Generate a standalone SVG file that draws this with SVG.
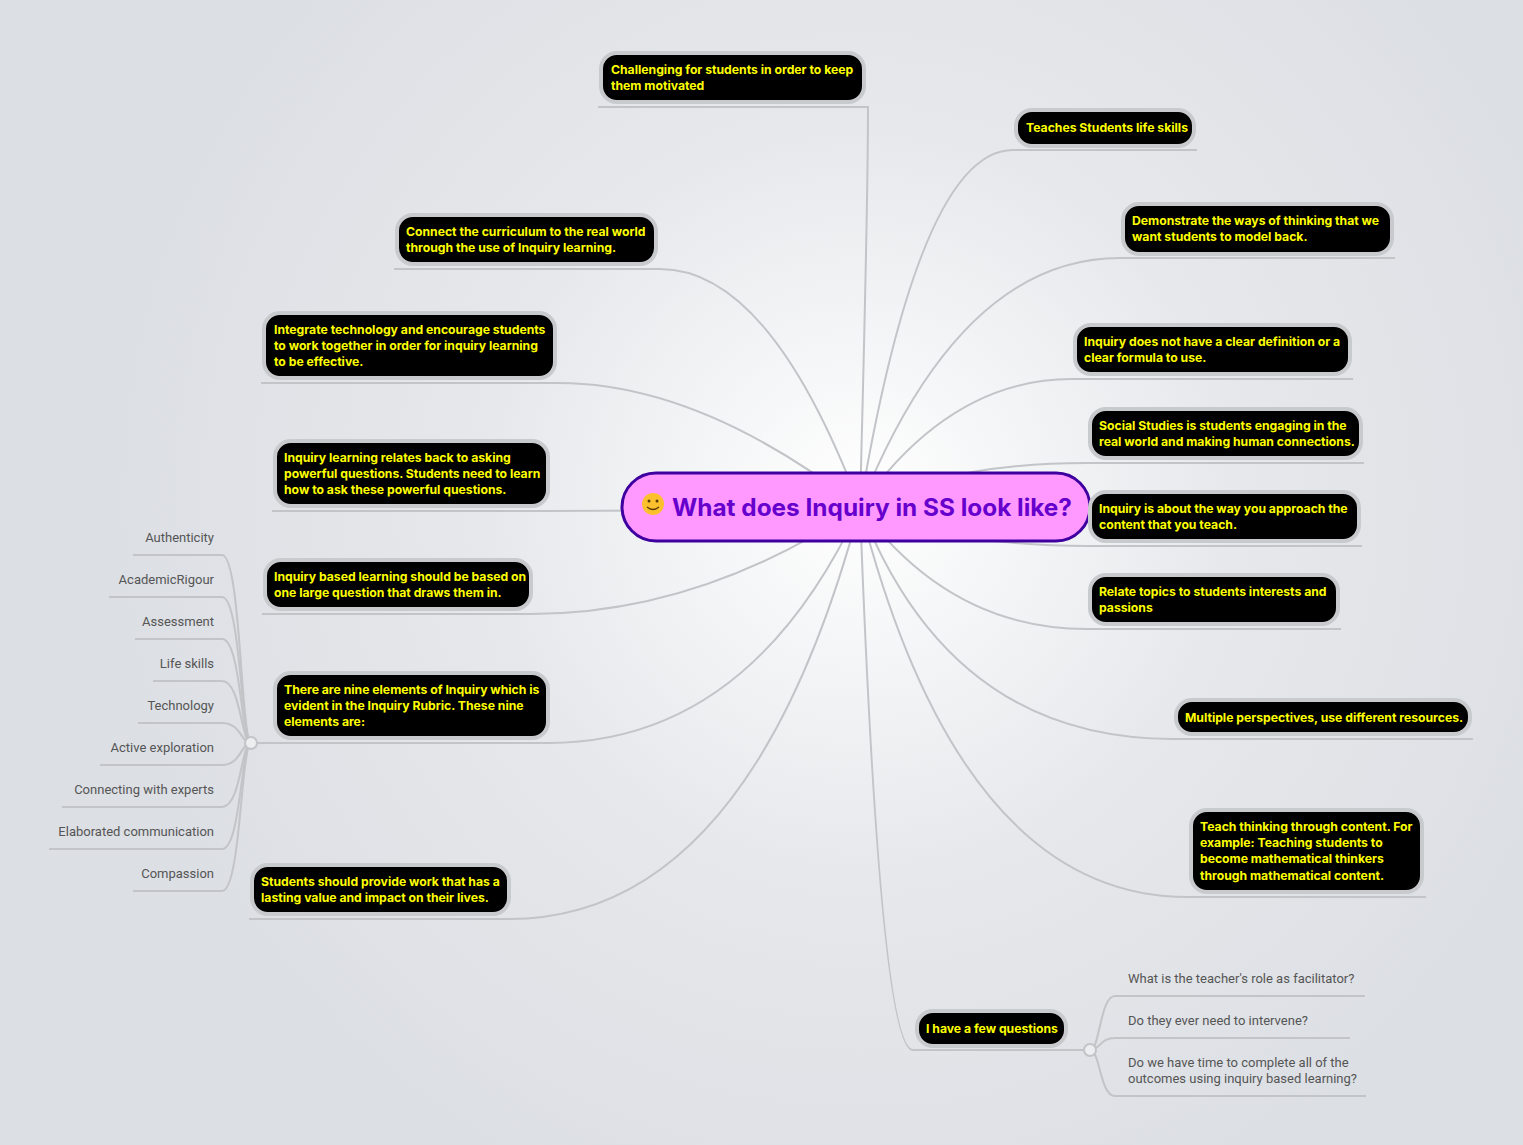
<svg xmlns="http://www.w3.org/2000/svg" width="1523" height="1145" viewBox="0 0 1523 1145">
<defs>
<radialGradient id="bg" cx="860" cy="500" r="750" gradientUnits="userSpaceOnUse">
<stop offset="0" stop-color="#ffffff"/><stop offset="0.5" stop-color="#e6e8eb"/><stop offset="1" stop-color="#dcdfe4"/>
</radialGradient>
<style>
.c{fill:none;stroke:#c2c4c8;stroke-width:2}
.n rect{fill:#000;stroke:#c8cacd;stroke-width:4}
.n text{font-family:Inter,Roboto,"Liberation Sans",sans-serif;font-weight:bold;font-size:12.2px;fill:#ffff00}
.l{font-family:Roboto,"Liberation Sans",sans-serif;font-size:13px;fill:#555}
</style>
</defs>
<rect width="1523" height="1145" fill="url(#bg)"/>
<g id="connectors">
<path class="c" d="M860 507 Q868 200 868 107 H598"/>
<path class="c" d="M860 507 Q920 150 1013 150 H1197"/>
<path class="c" d="M860 507 Q960 258 1120 258 H1395"/>
<path class="c" d="M860 507 Q770 269 660 269 H394"/>
<path class="c" d="M860 507 Q950 379 1072 379 H1353"/>
<path class="c" d="M860 507 Q700 383 558 383 H261"/>
<path class="c" d="M860 507 Q950 463 1087 463 H1364"/>
<path class="c" d="M860 507 Q700 511 548 511 H272"/>
<path class="c" d="M860 507 Q950 546 1087 546 H1362"/>
<path class="c" d="M860 507 Q700 614 531 614 H262"/>
<path class="c" d="M860 507 Q950 629 1087 629 H1341"/>
<path class="c" d="M860 507 Q750 743 548 743 H251"/>
<path class="c" d="M860 507 Q950 739 1173 739 H1473"/>
<path class="c" d="M860 507 Q960 897 1188 897 H1426"/>
<path class="c" d="M860 507 Q750 919 509 919 H249"/>
<path class="c" d="M860 507 Q880 1050 913 1050 H1090"/>
<g>
<path class="c" d="M251 743 C241 743 241 555 222 555 H133"/>
<path class="c" d="M251 743 C241 743 241 597 222 597 H109"/>
<path class="c" d="M251 743 C241 743 241 639 222 639 H135"/>
<path class="c" d="M251 743 C241 743 241 681 222 681 H153"/>
<path class="c" d="M251 743 C241 743 241 723 222 723 H138"/>
<path class="c" d="M251 743 C241 743 241 765 222 765 H100"/>
<path class="c" d="M251 743 C241 743 241 807 222 807 H62"/>
<path class="c" d="M251 743 C241 743 241 849 222 849 H49"/>
<path class="c" d="M251 743 C241 743 241 891 222 891 H133"/>
<circle cx="251" cy="743" r="6" fill="#eceef0" stroke="#c2c4c8" stroke-width="2"/>
</g>
<g>
<path class="c" d="M1090 1050 C1100 1050 1100 996 1115 996 H1365"/>
<path class="c" d="M1090 1050 C1100 1050 1100 1038 1115 1038 H1350"/>
<path class="c" d="M1090 1050 C1100 1050 1100 1096 1115 1096 H1366"/>
<circle cx="1090" cy="1050" r="6" fill="#eceef0" stroke="#c2c4c8" stroke-width="2"/>
</g>
</g>
<g id="center">
<rect x="622" y="473" width="468" height="68" rx="34" fill="#ff99ff" stroke="#3f00a0" stroke-width="3"/>
<circle cx="653" cy="504" r="11" fill="#fbc02d"/>
<circle cx="649" cy="501" r="1.5" fill="#5a3a00"/><circle cx="657" cy="501" r="1.5" fill="#5a3a00"/>
<path d="M647 507 Q653 512 659 507" fill="none" stroke="#5a3a00" stroke-width="1.3"/>
<text x="672" y="516" font-family="Inter,Roboto,'Liberation Sans',sans-serif" font-weight="bold" font-size="24" textLength="400" lengthAdjust="spacingAndGlyphs" fill="#6600cc">What does Inquiry in SS look like?</text>
</g>
<g id="n1" class="n"><rect x="601" y="53" width="263" height="49" rx="16"/><text x="611" y="74">Challenging for students in order to keep</text><text x="611" y="90">them motivated</text></g>
<g id="n2" class="n"><rect x="1016" y="110" width="178" height="36" rx="16"/><text x="1026" y="132">Teaches Students life skills</text></g>
<g id="n3" class="n"><rect x="1123" y="204" width="269" height="50" rx="16"/><text x="1132" y="225">Demonstrate the ways of thinking that we</text><text x="1132" y="241">want students to model back.</text></g>
<g id="n4" class="n"><rect x="397" y="215" width="259" height="49" rx="16"/><text x="406" y="236">Connect the curriculum to the real world</text><text x="406" y="252">through the use of Inquiry learning.</text></g>
<g id="n5" class="n"><rect x="1075" y="325" width="275" height="49" rx="16"/><text x="1084" y="346">Inquiry does not have a clear definition or a</text><text x="1084" y="362">clear formula to use.</text></g>
<g id="n6" class="n"><rect x="264" y="313" width="291" height="65" rx="16"/><text x="274" y="334">Integrate technology and encourage students</text><text x="274" y="350">to work together in order for inquiry learning</text><text x="274" y="366">to be effective.</text></g>
<g id="n7" class="n"><rect x="1090" y="409" width="271" height="49" rx="16"/><text x="1099" y="430">Social Studies is students engaging in the</text><text x="1099" y="446">real world and making human connections.</text></g>
<g id="n8" class="n"><rect x="275" y="441" width="273" height="65" rx="16"/><text x="284" y="462">Inquiry learning relates back to asking</text><text x="284" y="478">powerful questions. Students need to learn</text><text x="284" y="494">how to ask these powerful questions.</text></g>
<g id="n9" class="n"><rect x="1090" y="492" width="269" height="49" rx="16"/><text x="1099" y="513">Inquiry is about the way you approach the</text><text x="1099" y="529">content that you teach.</text></g>
<g id="n10" class="n"><rect x="265" y="560" width="266" height="49" rx="16"/><text x="274" y="581">Inquiry based learning should be based on</text><text x="274" y="597">one large question that draws them in.</text></g>
<g id="n11" class="n"><rect x="1090" y="575" width="248" height="49" rx="16"/><text x="1099" y="596">Relate topics to students interests and</text><text x="1099" y="612">passions</text></g>
<g id="n12" class="n"><rect x="275" y="673" width="273" height="65" rx="16"/><text x="284" y="694">There are nine elements of Inquiry which is</text><text x="284" y="710">evident in the Inquiry Rubric. These nine</text><text x="284" y="726">elements are:</text></g>
<g id="n13" class="n"><rect x="1176" y="700" width="294" height="34" rx="16"/><text x="1185" y="722">Multiple perspectives, use different resources.</text></g>
<g id="n14" class="n"><rect x="1191" y="810" width="231" height="82" rx="16"/><text x="1200" y="831">Teach thinking through content. For</text><text x="1200" y="847">example: Teaching students to</text><text x="1200" y="863">become mathematical thinkers</text><text x="1200" y="880">through mathematical content.</text></g>
<g id="n15" class="n"><rect x="252" y="865" width="257" height="49" rx="16"/><text x="261" y="886">Students should provide work that has a</text><text x="261" y="902">lasting value and impact on their lives.</text></g>
<g id="n16" class="n"><rect x="917" y="1011" width="149" height="35" rx="16"/><text x="926" y="1033">I have a few questions</text></g>
<g id="leaves" class="l" text-anchor="end">
<text x="214" y="542" class="l">Authenticity</text>
<text x="214" y="584" class="l">AcademicRigour</text>
<text x="214" y="626" class="l">Assessment</text>
<text x="214" y="668" class="l">Life skills</text>
<text x="214" y="710" class="l">Technology</text>
<text x="214" y="752" class="l">Active exploration</text>
<text x="214" y="794" class="l">Connecting with experts</text>
<text x="214" y="836" class="l">Elaborated communication</text>
<text x="214" y="878" class="l">Compassion</text>
</g>
<g id="questions">
<text x="1128" y="983" class="l">What is the teacher's role as facilitator?</text>
<text x="1128" y="1025" class="l">Do they ever need to intervene?</text>
<text x="1128" y="1067" class="l">Do we have time to complete all of the</text>
<text x="1128" y="1083" class="l">outcomes using inquiry based learning?</text>
</g>
</svg>
